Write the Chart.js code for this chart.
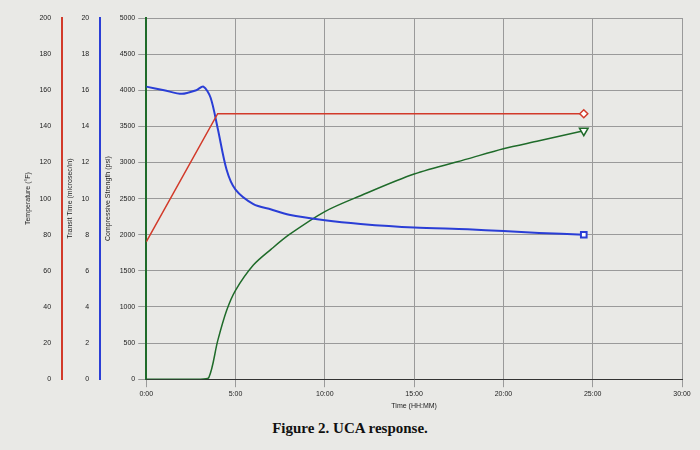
<!DOCTYPE html><html><head><script src="https://cdn.jsdelivr.net/npm/chart.js@4"></script>
<style>body{margin:0;background:#e9e9e6;}#w{position:relative;width:700px;height:450px;}
#cap{position:absolute;left:0;width:700px;top:420px;text-align:center;font:bold 15px "Liberation Serif",serif;color:#111}</style></head><body>
<div id="w"><canvas id="c" width="700" height="410"></canvas><div id="cap">Figure 2. UCA response.</div></div>
<script>
const tempT=[0,4,4.5,8,12,16,20,24.5];
const tempV=[76,147,147,147,147,147,147,147];
const transT=[0,1,2,2.8,3.2,3.6,4,4.5,5,6,7,8,10,12,15,18,20,22,24.5];
const transV=[16.2,16.0,15.8,16.0,16.2,15.6,13.9,11.6,10.5,9.7,9.4,9.1,8.8,8.6,8.4,8.3,8.2,8.1,8.0];
const strT=[0,3,3.5,4,4.5,5,6,7,8,10,12,15,18,20,22,24.5];
const strV=[0,0,20,530,950,1230,1580,1800,2000,2320,2540,2840,3050,3190,3300,3440];
const xTicks=['0:00','5:00','10:00','15:00','20:00','25:00','30:00'];
const pts=(t,v)=>t.map((x,i)=>({x,y:v[i]}));
const lastOnly=(n,s)=>ctx=>ctx.dataIndex===n-1?s:0;
const tk={font:{size:7},color:'#222'};
new Chart(document.getElementById('c'),{type:'line',data:{datasets:[
{data:pts(tempT,tempV),yAxisID:'yT',borderColor:'#d23a2a',borderWidth:1.5,pointStyle:'rectRot',pointRadius:lastOnly(tempT.length,4),pointBackgroundColor:'#fff',pointBorderColor:'#d23a2a'},
{data:pts(transT,transV),yAxisID:'yR',borderColor:'#2a3ed6',borderWidth:2,pointStyle:'rect',pointRadius:lastOnly(transT.length,4),pointBackgroundColor:'#fff',pointBorderColor:'#2a3ed6',tension:0.3},
{data:pts(strT,strV),yAxisID:'yS',borderColor:'#1f6b2a',borderWidth:1.5,pointStyle:'triangle',rotation:180,pointRadius:lastOnly(strT.length,5),pointBackgroundColor:'#fff',pointBorderColor:'#1f6b2a',tension:0.3}
]},options:{animation:false,responsive:false,layout:{padding:{top:18,right:18,left:20}},plugins:{legend:{display:false}},
scales:{
yS:{position:'left',min:0,max:5000,ticks:{...tk,stepSize:500,callback:v=>String(v)},grid:{color:'#9a9a9a'},border:{color:'#1f6b2a',width:2},title:{display:true,text:'Compressive Strength (psi)',...tk}},
yR:{position:'left',min:0,max:20,ticks:{...tk,stepSize:2},grid:{display:false},border:{color:'#2a3ed6',width:2},title:{display:true,text:'Transit Time (microsec/in)',...tk}},
yT:{position:'left',min:0,max:200,ticks:{...tk,stepSize:20},grid:{display:false},border:{color:'#d23a2a',width:2},title:{display:true,text:'Temperature (°F)',...tk}},
x:{type:'linear',min:0,max:30,ticks:{...tk,stepSize:5,callback:(v,i)=>xTicks[i]},grid:{color:'#9a9a9a'},border:{color:'#333'},title:{display:true,text:'Time (HH:MM)',...tk,padding:0}}
}}});
</script></body></html>
